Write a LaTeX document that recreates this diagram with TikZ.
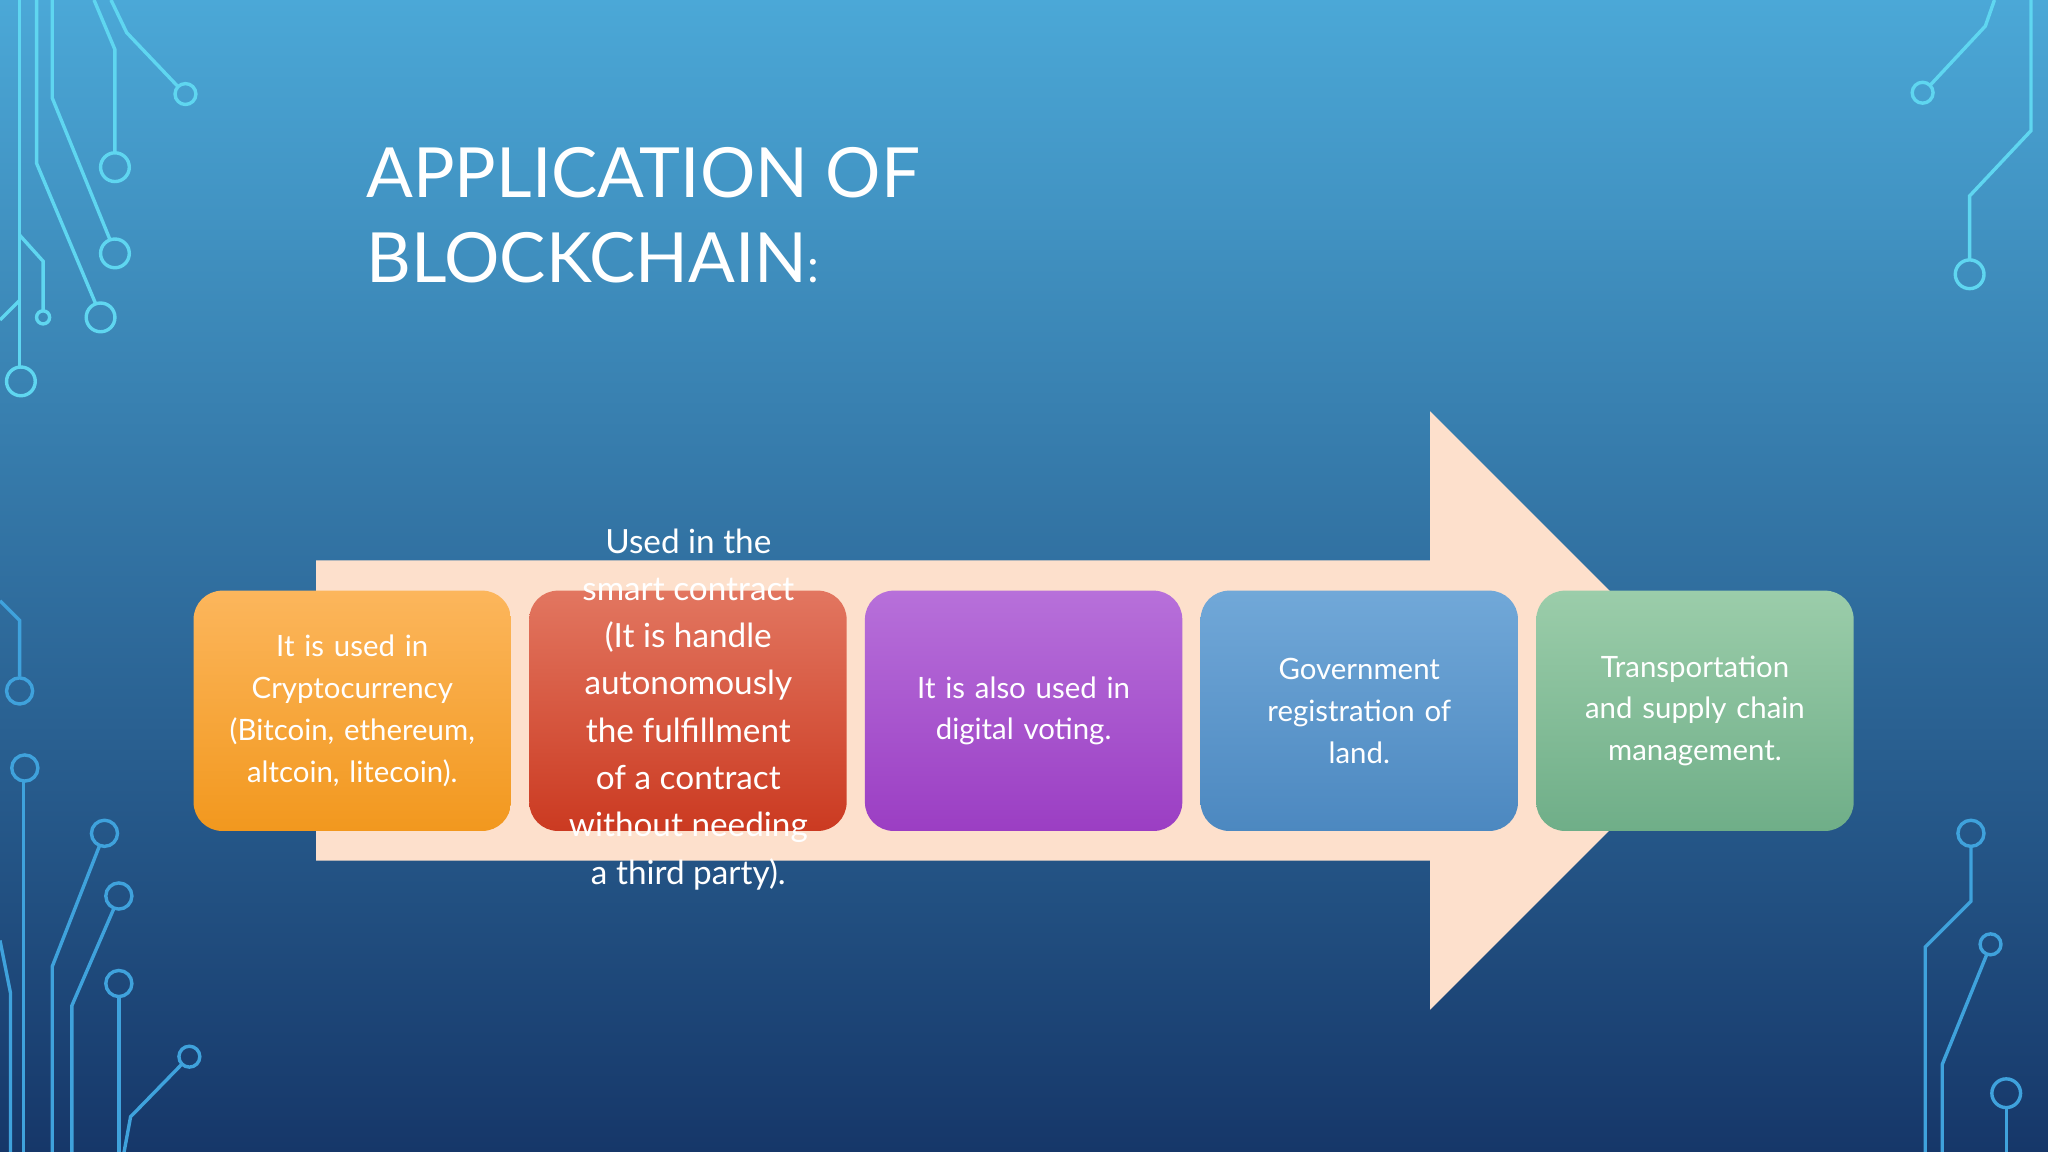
\documentclass[tikz,border=0pt]{standalone}
\usepackage{fontspec}
\setmainfont{Lato}
\definecolor{arrowc}{HTML}{FDE0CC}
\definecolor{cyanl}{HTML}{5FD6F0}
\definecolor{bluel}{HTML}{3FA2DC}
\begin{document}
\begin{tikzpicture}[x=1pt,y=-1pt,
  box/.style={rounded corners=22pt,minimum width=243pt,minimum height=184pt,anchor=north west,text=white,align=center,text width=220pt,font=\fontsize{22.5}{32}\selectfont},
  ckt/.style={line width=2.6pt},
  dot/.style={line width=2.6pt}]
\useasboundingbox (0,0) rectangle (1568,882);
\shade[top color={rgb,255:red,75;green,168;blue,215}, middle color={rgb,255:red,50;green,130;blue,185}, bottom color={rgb,255:red,22;green,55;blue,105}] (0,0) rectangle (1568,882);
% title
\node[anchor=north west,text=white,align=left,font=\fontsize{53}{65}\selectfont] (title) at (277,109) {APPLICATION OF\\BLOCKCHAIN{\fontsize{36}{40}\selectfont:}};
% arrow
\fill[arrowc] (242,429) -- (1095,429) -- (1095,315) -- (1324,544) -- (1095,773) -- (1095,659) -- (242,659) -- cycle;
% boxes
\node[box,top color={rgb,255:red,252;green,182;blue,92},bottom color={rgb,255:red,242;green,152;blue,30}] (b1) at (148,452) {It is used in\\Cryptocurrency\\(Bitcoin, ethereum,\\altcoin, litecoin).};
\node[box,top color={rgb,255:red,226;green,118;blue,96},bottom color={rgb,255:red,203;green,58;blue,33}] (b2) at (405,452) {};
\node[text=white,align=center,font=\fontsize{25.5}{36.2}\selectfont] (t2) at (527,543) {Used in the\\smart contract\\(It is handle\\autonomously\\the fulfillment\\of a contract\\without needing\\a third party).};
\node[box,top color={rgb,255:red,183;green,112;blue,218},bottom color={rgb,255:red,155;green,62;blue,195}] (b3) at (662,452) {It is also used in\\digital voting.};
\node[box,top color={rgb,255:red,113;green,168;blue,216},bottom color={rgb,255:red,76;green,136;blue,192}] (b4) at (919,452) {Government\\registration of\\land.};
\node[box,top color={rgb,255:red,155;green,205;blue,170},bottom color={rgb,255:red,111;green,174;blue,136}] (b5) at (1176,452) {Transportation\\and supply chain\\management.};
% circuits
\begin{scope}[draw=cyanl]
\draw[ckt] (72,0)--(88,38)--(88,117); \draw[dot] (88,128) circle (11);
\draw[ckt] (85,0)--(97,25)--(136,66); \draw[dot] (142,72) circle (8);
\draw[ckt] (40,0)--(40,75)--(84,183); \draw[dot] (88,194) circle (11);
\draw[ckt] (28,0)--(28,125)--(73,232); \draw[dot] (77,243) circle (11);
\draw[ckt] (15,0)--(15,281); \draw[dot] (16,292) circle (11);
\draw[ckt] (15,180)--(33,200)--(33,238); \draw[dot] (33,243) circle (5);
\draw[ckt] (0,245)--(15,230);
\draw[ckt] (1527,0)--(1520,20)--(1478,65); \draw[dot] (1472,71) circle (8);
\draw[ckt] (1555,0)--(1555,100)--(1508,150)--(1508,199); \draw[dot] (1508,210) circle (11);
\end{scope}
\begin{scope}[draw=bluel]
\draw[ckt] (0,460)--(15,475)--(15,518); \draw[dot] (15,529) circle (10);
\draw[dot] (19,588) circle (10); \draw[ckt] (18,598)--(18,882);
\draw[dot] (80,638) circle (10); \draw[ckt] (76,648)--(40,740)--(40,882);
\draw[dot] (91,686) circle (10); \draw[ckt] (87,696)--(55,770)--(55,882);
\draw[dot] (91,753) circle (10); \draw[ckt] (91,763)--(91,882);
\draw[dot] (145,809) circle (8); \draw[ckt] (139,815)--(100,855)--(95,882);
\draw[ckt] (0,720)--(8,760)--(8,882);
\draw[dot] (1509,638) circle (10); \draw[ckt] (1509,648)--(1509,690)--(1474,725)--(1474,882);
\draw[dot] (1524,723) circle (8); \draw[ckt] (1521,731)--(1487,815)--(1487,882);
\draw[dot] (1536,837) circle (11); \draw[ckt] (1536,848)--(1536,882);
\end{scope}
\end{tikzpicture}
\end{document}
